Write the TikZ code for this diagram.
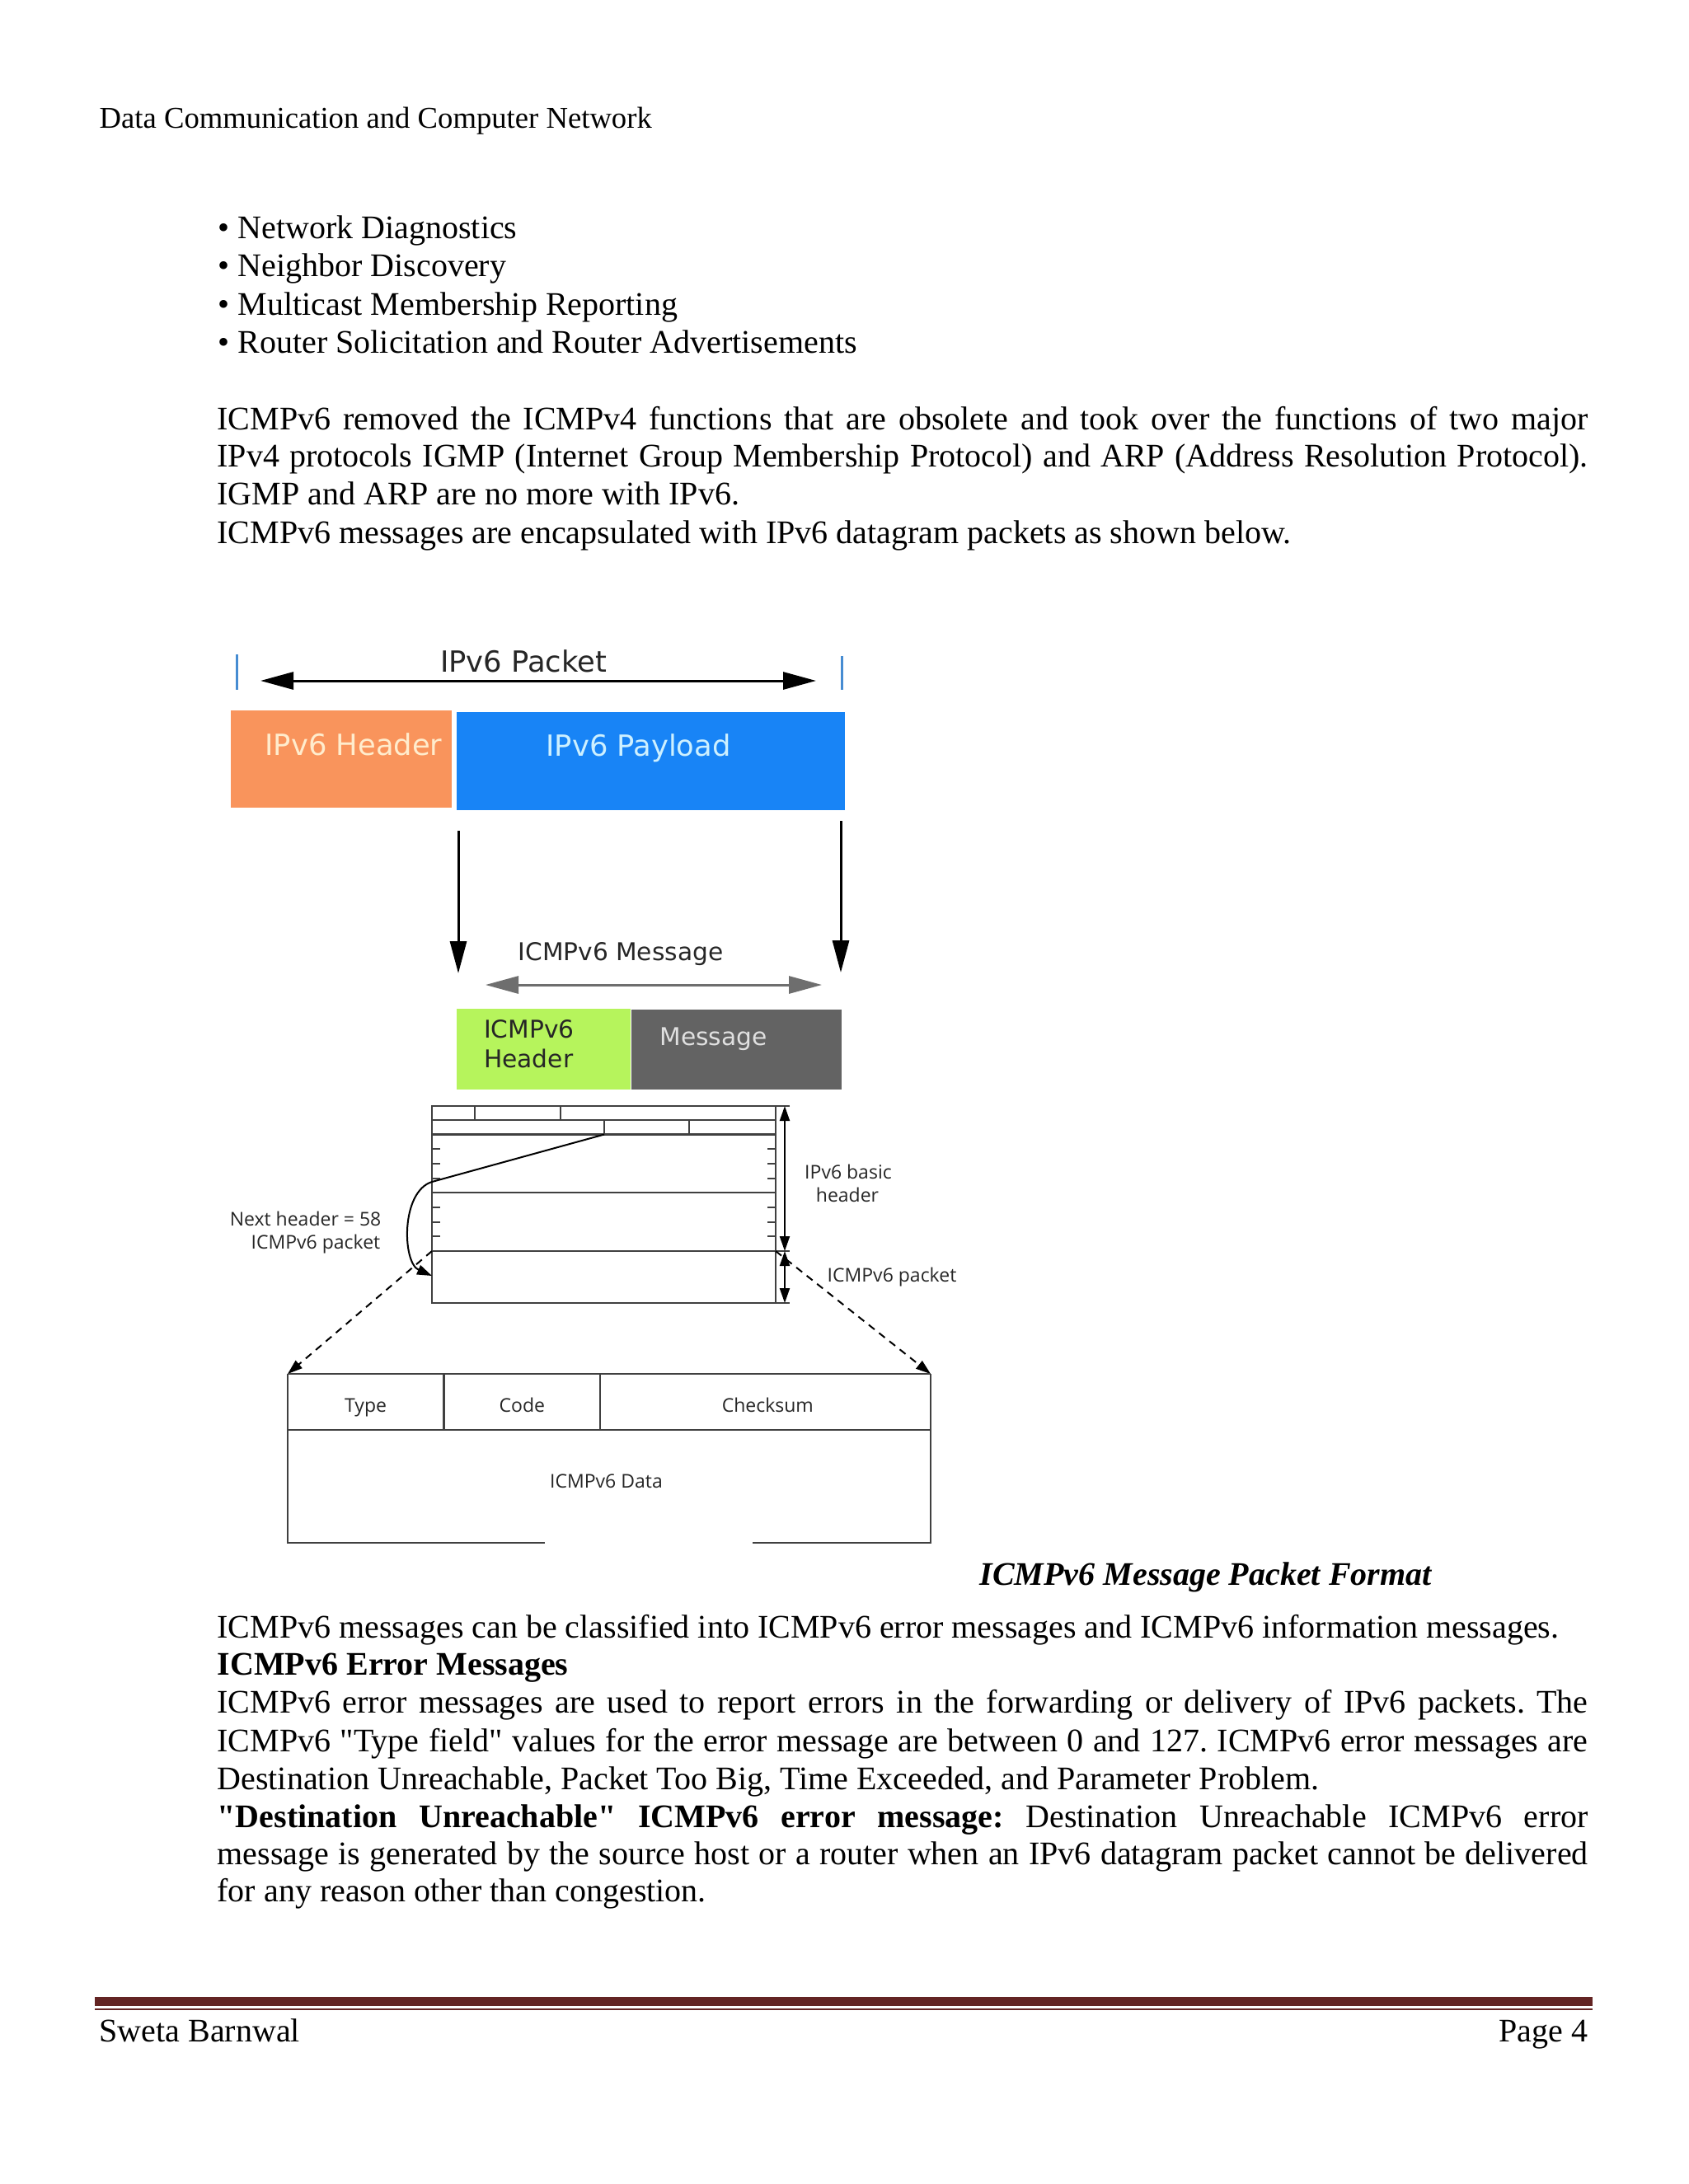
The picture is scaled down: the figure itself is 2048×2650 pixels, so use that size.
\documentclass[tikz,border=0pt]{standalone}
\usepackage{fontspec}
\setmainfont{Liberation Serif}
\newfontfamily\figfont{DejaVu Sans}
\newfontfamily\lblfont{Open Sans}
\usetikzlibrary{arrows.meta, positioning}
\definecolor{hdrorange}{RGB}{249,148,92}
\definecolor{payblue}{RGB}{24,132,246}
\definecolor{icmpgreen}{RGB}{182,244,92}
\definecolor{msggray}{RGB}{99,99,99}
\definecolor{tickblue}{RGB}{70,140,210}
\definecolor{footred}{RGB}{99,36,35}
\definecolor{arrowgray}{RGB}{110,110,110}
\newlength\pxu
\setlength\pxu{0.29995pt}
\newcommand{\fullline}[1]{\makebox[1663\pxu][s]{#1}}
\newcommand{\dq}{\textquotedbl}
\frenchspacing
\tikzset{
  body/.style={anchor=base west, inner sep=0pt, font=\fontsize{12}{14}\selectfont},
  bigtxt/.style={anchor=base, inner sep=0pt, font=\figfont\fontsize{10.6}{12}\selectfont},
  midtxt/.style={anchor=base west, inner sep=0pt, font=\figfont\fontsize{8.9}{10}\selectfont},
  smalltxt/.style={anchor=base, inner sep=0pt, font=\lblfont\fontsize{6.9}{8}\selectfont, text=black!85},
  colbox/.style={draw=none, inner sep=0pt, outer sep=0pt},
  fatarrow/.style={{Triangle[length=12pt, width=6.3pt]}-{Triangle[length=12pt, width=6.3pt]}, line width=0.9pt},
  downarrow/.style={-{Triangle[length=11.7pt, width=6pt]}, line width=0.9pt},
  pktline/.style={line width=0.66pt, draw=black!75},
  sizearrow/.style={{Triangle[length=5.4pt, width=3.6pt]}-{Triangle[length=5.4pt, width=3.6pt]}, line width=0.6pt},
  dasharrow/.style={dash pattern=on 2.7pt off 2.1pt, -{Triangle[length=5.4pt, width=3.6pt]}, line width=0.6pt}
}

\begin{document}
\begin{tikzpicture}[x=0.29995pt, y=-0.29995pt]
    % page
    \useasboundingbox (0,0) rectangle (2048,2650);
    \fill[white] (0,0) rectangle (2048,2650);

    % header line and bullets
    \node[body, font=\fontsize{11}{13}\selectfont] (title) at (120,155) {Data Communication and Computer Network};
    \node[body] (b1) at (264,289) {\textbullet\ Network Diagnostics};
    \node[body] (b2) at (264,335) {\textbullet\ Neighbor Discovery};
    \node[body] (b3) at (264,382) {\textbullet\ Multicast Membership Reporting};
    \node[body] (b4) at (264,428) {\textbullet\ Router Solicitation and Router Advertisements};

    % first paragraph
    \node[body] (p1a) at (263,521) {\fullline{ICMPv6 removed the ICMPv4 functions that are obsolete and took over the functions of two major}};
    \node[body] (p1b) at (263,566) {\fullline{IPv4 protocols IGMP (Internet Group Membership Protocol) and ARP (Address Resolution Protocol).}};
    \node[body] (p1c) at (263,612) {IGMP and ARP are no more with IPv6.};
    \node[body] (p1d) at (263,659) {ICMPv6 messages are encapsulated with IPv6 datagram packets as shown below.};

    % IPv6 packet with its span arrow
    \draw[tickblue, line width=0.9pt] (287,794) -- (287,837);
    \draw[tickblue, line width=0.9pt] (1021,796) -- (1021,837);
    \coordinate (pl) at (316,826);
    \coordinate (pr) at (990,826);
    \draw[fatarrow] (pl) -- (pr);
    \node[bigtxt, text=black!85] (pkt) at (635,815) {IPv6 Packet};

    \node[colbox, fill=hdrorange, minimum width=80.4pt, minimum height=35.4pt] (iphdr) at (414,921) {};
    \node[colbox, fill=payblue, minimum width=141.3pt, minimum height=35.7pt] (ippay) at (789.5,923.3) {};
    \node[bigtxt, text={rgb,255:red,255;green,236;blue,205}] (iphdrtxt) at (429,916) {IPv6 Header};
    \node[bigtxt, text={rgb,255:red,205;green,240;blue,255}] (ippaytxt) at (774.5,917) {IPv6 Payload};

    % payload goes down to the ICMPv6 message
    \coordinate (dl1) at (556,1008);
    \coordinate (dl2) at (556,1181);
    \coordinate (dr1) at (1020,996);
    \coordinate (dr2) at (1020,1180);
    \draw[downarrow] (dl1) -- (dl2);
    \draw[downarrow] (dr1) -- (dr2);

    \node[bigtxt, font=\figfont\fontsize{8.9}{10}\selectfont, text=black!85] (msglbl) at (753,1165) {ICMPv6 Message};
    \coordinate (ml) at (589,1195);
    \coordinate (mr) at (997,1195);
    \draw[fatarrow, arrowgray] (ml) -- (mr);

    \node[colbox, fill=icmpgreen, minimum width=63.3pt, minimum height=29.4pt] (icmphdr) at (659.5,1273) {};
    \node[colbox, fill=msggray, minimum width=76.5pt, minimum height=29.1pt] (icmpmsg) at (893.5,1273.5) {};
    \node[midtxt, text=black!85] (icmphdr1) at (586.5,1259) {ICMPv6};
    \node[midtxt, text=black!85] (icmphdr2) at (586.5,1295) {Header};
    \node[midtxt, text=black!12] (icmpmsgtxt) at (800,1268) {Message};

    % IPv6 basic header block
    \draw[pktline] (958,1342) -- (524,1342) -- (524,1581) -- (958,1581);
    \draw[pktline] (941,1342) -- (941,1581);
    \draw[pktline] (524,1359) -- (941,1359);
    \draw[pktline] (524,1376.5) -- (941,1376.5);
    \draw[pktline] (524,1447) -- (941,1447);
    \draw[pktline] (524,1518) -- (958,1518);
    \draw[pktline] (576,1342) -- (576,1359);
    \draw[pktline] (680,1342) -- (680,1359);
    \draw[pktline] (733,1359) -- (733,1376.5);
    \draw[pktline] (836,1359) -- (836,1376.5);
    \foreach \ty in {1394,1412,1430,1465,1483,1500} {
        \draw[pktline] (524,\ty) -- (534,\ty);
        \draw[pktline] (931,\ty) -- (941,\ty);
    }
    \coordinate (nh) at (524,1434);
    \coordinate (nhend) at (524,1548);
    \draw[line width=0.6pt] (733,1376.5) -- (nh);
    \draw[line width=0.6pt, -{Triangle[length=5.4pt, width=3.6pt]}] (nh) .. controls (486,1446) and (488,1532) .. (nhend);

    % size arrows on the right
    \coordinate (s1) at (952,1342);
    \coordinate (s2) at (952,1518);
    \coordinate (s3) at (952,1581);
    \draw[sizearrow] (s1) -- (s2);
    \draw[sizearrow] (s2) -- (s3);
    \node[smalltxt] (basic1) at (1029,1430) {IPv6 basic};
    \node[smalltxt] (basic2) at (1028,1458) {header};
    \node[smalltxt, anchor=base west] (pktr) at (1003,1555) {ICMPv6 packet};
    \node[smalltxt, anchor=base east] (next1) at (463,1487) {Next header = 58};
    \node[smalltxt, anchor=base east] (next2) at (462,1515) {ICMPv6 packet};

    % zoom into the ICMPv6 packet
    \coordinate (zl) at (524,1518);
    \coordinate (zr) at (941,1518);
    \coordinate (bl) at (349,1667);
    \coordinate (br) at (1129,1667);
    \draw[dasharrow] (zl) -- (bl);
    \draw[dasharrow] (zr) -- (br);

    % ICMPv6 packet fields
    \draw[pktline] (bl) -- (br);
    \draw[pktline] (bl) -- (349,1872) -- (661,1872);
    \draw[pktline] (br) -- (1129,1872) -- (913,1872);
    \draw[pktline] (349,1735) -- (1129,1735);
    \draw[pktline] (538.5,1667) -- (538.5,1735);
    \draw[pktline] (728,1667) -- (728,1735);
    \node[smalltxt] (ftype) at (443.6,1713) {Type};
    \node[smalltxt] (fcode) at (633.3,1713) {Code};
    \node[smalltxt] (fsum) at (931.3,1713) {Checksum};
    \node[smalltxt] (fdata) at (735.5,1805.5) {ICMPv6 Data};

    % caption
    \node[body, font=\fontsize{12}{14}\selectfont\bfseries\itshape] (cap) at (1188,1923) {ICMPv6 Message Packet Format};

    % second part of the text
    \node[body] (q1) at (263,1987) {ICMPv6 messages can be classified into ICMPv6 error messages and ICMPv6 information messages.};
    \node[body, font=\fontsize{12}{14}\selectfont\bfseries] (q2) at (263,2032) {ICMPv6 Error Messages};
    \node[body] (q3) at (263,2078) {\fullline{ICMPv6 error messages are used to report errors in the forwarding or delivery of IPv6 packets. The}};
    \node[body] (q4) at (263,2125) {\fullline{ICMPv6 \dq Type field\dq{} values for the error message are between 0 and 127. ICMPv6 error messages are}};
    \node[body] (q5) at (263,2171) {Destination Unreachable, Packet Too Big, Time Exceeded, and Parameter Problem.};
    \node[body] (q6) at (263,2217) {\fullline{\textbf{\dq Destination Unreachable\dq{} ICMPv6 error message:} Destination Unreachable ICMPv6 error}};
    \node[body] (q7) at (263,2262) {\fullline{message is generated by the source host or a router when an IPv6 datagram packet cannot be delivered}};
    \node[body] (q8) at (263,2307) {for any reason other than congestion.};

    % footer
    \fill[footred] (115,2423) rectangle (1932,2434);
    \fill[footred] (115,2436.5) rectangle (1932,2439);
    \node[body] (author) at (120,2477) {Sweta Barnwal};
    \node[body, anchor=base east] (page) at (1927,2477) {Page 4};
\end{tikzpicture}
\end{document}
